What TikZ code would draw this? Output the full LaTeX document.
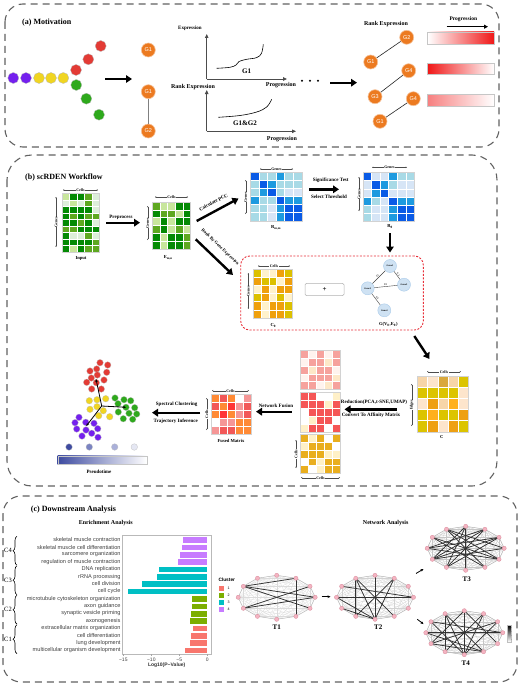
\documentclass[tikz,border=0pt]{standalone}
\usepackage{fontspec}
\setmainfont{Liberation Serif}
\newfontfamily\arialf{Liberation Sans}
\usetikzlibrary{arrows.meta,decorations.pathreplacing}

\definecolor{frame}{HTML}{626262}
\definecolor{gor}{HTML}{EC7A20}
\definecolor{cpur}{HTML}{7420EE}
\definecolor{cyel}{HTML}{F0D522}
\definecolor{cred}{HTML}{E33B35}
\definecolor{cgrn}{HTML}{2EA91C}
\definecolor{bred}{HTML}{F01818}
\definecolor{gA}{HTML}{048A04}
\definecolor{gB}{HTML}{5EA820}
\definecolor{gC}{HTML}{C8E69C}
\definecolor{gD}{HTML}{DDEEDA}
\definecolor{bA}{HTML}{0A5BE6}
\definecolor{bB}{HTML}{1E9ADF}
\definecolor{bC}{HTML}{A8DAE6}
\definecolor{bD}{HTML}{D6E5F6}
\definecolor{yA}{HTML}{DCC000}
\definecolor{oA}{HTML}{EFA00C}
\definecolor{cA}{HTML}{FFF2CC}
\definecolor{kP}{HTML}{F7D5A8}
\definecolor{kC}{HTML}{FDE5CC}
\definecolor{kT}{HTML}{D9A83C}
\definecolor{kY}{HTML}{DCC400}
\definecolor{kO}{HTML}{EEA012}
\definecolor{kB}{HTML}{FFB01C}
\definecolor{pA}{HTML}{F6A29D}
\definecolor{pW}{HTML}{FFF3EE}
\definecolor{pC}{HTML}{FDE8C8}
\definecolor{rA}{HTML}{F55656}
\definecolor{rC}{HTML}{FFF0C8}
\definecolor{dA}{HTML}{E9AE1E}
\definecolor{dC}{HTML}{FFF1C6}
\definecolor{fO}{HTML}{FF8A35}
\definecolor{fR}{HTML}{F25858}
\definecolor{fD}{HTML}{FF3535}
\definecolor{fP}{HTML}{F59696}
\definecolor{bcA}{HTML}{F8766D}
\definecolor{bcB}{HTML}{7CAE00}
\definecolor{bcC}{HTML}{00BFC4}
\definecolor{bcD}{HTML}{C77CFF}
\definecolor{nP}{HTML}{F4B4C2}
\definecolor{nPd}{HTML}{D98A9A}
\definecolor{tA}{HTML}{3E4BA0}
\definecolor{tB}{HTML}{7B84C2}
\definecolor{tC}{HTML}{AAB0D9}
\definecolor{tD}{HTML}{E5E7F3}
\definecolor{gnb}{HTML}{CFE2F3}
\definecolor{gnbd}{HTML}{A9CBEA}
\definecolor{redd}{HTML}{E8303A}

\newcommand{\hmap}[6]{%
  \foreach \cc [count=\ii from 0] in {#6}{%
    \pgfmathtruncatemacro\hmc{mod(\ii,#5)}%
    \pgfmathtruncatemacro\hmr{div(\ii,#5)}%
    \fill[\cc, draw=white, line width=0.15pt] ({#1+\hmc*#3},{#2+\hmr*#4}) rectangle ++(#3,#4);%
  }%
}
\newcommand{\toplab}[4]{%
  \draw[dimarrow] (#1,#3) -- (#2,#3);
  \node[tinylab, fill=white, inner sep=0.4pt] at ({(#1+#2)/2},#3) {#4};}
\newcommand{\leftlab}[4]{%
  \draw[dimarrow] (#1,#2) -- (#1,#3);
  \node[tinylab, fill=white, inner sep=0.4pt, rotate=90] at (#1,{(#2+#3)/2}) {#4};}
\newcommand{\netw}[5]{%
  \foreach \k in {0,...,11}{\coordinate (#3-\k) at ({#1+38.5*cos(120-30*\k)},{#2-22*sin(120-30*\k)});}
  \foreach \k in {0,...,10}{\pgfmathtruncatemacro\kn{\k+1}%
    \foreach \m in {\kn,...,11}{\draw[#5, line width=0.25pt] (#3-\k) -- (#3-\m);}}
  \foreach \k in {0,...,11}{\pgfmathtruncatemacro\kn{mod(\k+1,12)}\draw[gray!55, line width=0.45pt] (#3-\k) -- (#3-\kn);}
  \foreach \p/\q in {#4}{\draw[darkedge] (#3-\p) -- (#3-\q);}
  \foreach \k in {0,...,11}{\node[netnode] (#3n\k) at (#3-\k) {};}
}

\begin{document}
\begin{tikzpicture}[x=1pt,y=-1pt,
  ttl/.style={font=\bfseries\fontsize{8}{9}\selectfont, inner sep=0},
  alab/.style={font=\bfseries\fontsize{6}{7}\selectfont, inner sep=0},
  blab/.style={font=\bfseries\fontsize{5}{6}\selectfont, inner sep=0},
  mlab/.style={font=\bfseries\fontsize{4.6}{5}\selectfont, inner sep=0},
  tinylab/.style={font=\bfseries\fontsize{3.9}{4}\selectfont},
  celldot/.style={circle, minimum size=11pt, inner sep=0, draw=gray!55, line width=0.3pt},
  sdot/.style={circle, minimum size=6.6pt, inner sep=0, draw=gray!50, line width=0.25pt},
  gnode/.style={circle, fill=gor, draw=gor!45!white, line width=0.6pt, minimum size=14pt, inner sep=0, text=white, font=\arialf\fontsize{5.5}{6}\selectfont},
  bigarrow/.style={line width=2.4pt, -{Triangle[length=6pt,width=7.5pt]}},
  axisline/.style={draw=black!70, line width=0.9pt, -{Triangle[length=4pt,width=3.5pt]}},
  dimarrow/.style={line width=0.3pt, black!70, {Stealth[length=1.3pt,width=1.4pt]}-{Stealth[length=1.3pt,width=1.4pt]}},
  matf/.style={draw=gray!35, line width=0.4pt, inner sep=0, anchor=north west},
  gn/.style={circle, fill=gnb, draw=gnbd, line width=0.4pt, minimum size=13pt, inner sep=0, font=\bfseries\fontsize{2.4}{3}\selectfont},
  elab/.style={font=\bfseries\fontsize{2.6}{3}\selectfont, inner sep=0.6pt},
  netnode/.style={circle, fill=nP, draw=nPd, line width=0.3pt, minimum size=4.2pt, inner sep=0},
  darkedge/.style={black!80, line width=0.75pt},
  barlab/.style={font=\arialf\fontsize{5.6}{6}\selectfont, text=black!75, inner sep=0, anchor=east},
  panel/.style={draw=frame, line width=1.1pt, dash pattern=on 7pt off 5pt, rounded corners=18pt},
  smallarrow/.style={line width=0.8pt, -{Stealth[length=3pt,width=2.6pt]}}
]
\useasboundingbox (0,0) rectangle (519,685);
\fill[white] (0,0) rectangle (519,685);

% ---------------- panel frames
\draw[panel] (5,4) rectangle (499,147);
\draw[panel, rounded corners=25pt] (7,155) rectangle (497,486);
\draw[panel] (3,496) rectangle (517,682);

% ================= (a) Motivation
\node[ttl, anchor=west] (ta) at (22,23) {(a) Motivation};
\foreach \x/\y/\c [count=\i] in {13.3/78/cpur, 26/78/cpur, 39/78/cyel, 51/78/cyel, 63.3/78/cyel,
   76/70/cred, 88.3/59.3/cred, 100.7/46/cred, 76.3/85/cgrn, 86.3/98.7/cgrn, 99/114.7/cgrn}
  \node[celldot, fill=\c] (ac\i) at (\x,\y) {};
\coordinate (a1s) at (105,79); \coordinate (a1e) at (132,79);
\draw[bigarrow] (a1s) -- (a1e);

\node[gnode] (ga1) at (148.3,50) {G1};
\node[gnode] (ga2) at (148.3,91.7) {G1};
\node[gnode] (ga3) at (148.3,131) {G2};
\draw[gray, line width=1pt] (ga2) -- (ga3);

% plots
\coordinate (o1) at (206.7,79); \coordinate (y1) at (206.7,34); \coordinate (x1) at (287,79);
\draw[axisline] (o1) -- (y1); \draw[axisline] (o1) -- (x1);
\node[alab, font=\bfseries\fontsize{5}{6}\selectfont] (lexp) at (190,28.3) {Expression};
\node[alab] (lpr1) at (281,85) {Progression};
\draw[black, line width=0.6pt] plot[smooth, tension=0.6] coordinates {(216.7,68.3) (230,67.3) (236,65) (239,61.5) (246.7,59.3) (256.7,57.6) (261.5,53.3) (263.3,44.3)};
\node[alab, font=\bfseries\fontsize{7}{8}\selectfont] (lg1) at (246.7,71.7) {G1};

\coordinate (o2) at (206.7,131.3); \coordinate (y2) at (206.7,90); \coordinate (x2) at (296,131.3);
\draw[axisline] (o2) -- (y2); \draw[axisline] (o2) -- (x2);
\node[alab] (lrk1) at (193,87.3) {Rank Expression};
\node[alab] (lpr2) at (282,139.3) {Progression};
\draw[black, line width=0.6pt] plot[smooth, tension=0.6] coordinates {(218.3,117.3) (240,115.5) (256.7,112) (266.7,107) (271.7,99.3)};
\node[alab, font=\bfseries\fontsize{7}{8}\selectfont] (lg12) at (245,123.3) {G1\&G2};

\foreach \x [count=\i] in {302,310,318} \fill (\x,80.7) circle (1.1);
\coordinate (a2s) at (330,82.7); \coordinate (a2e) at (357,82.7);
\draw[bigarrow] (a2s) -- (a2e);

\node[alab] (lrk2) at (386,24.3) {Rank Expression};
\node[gnode] (gr2) at (406.7,37.3) {G2};
\node[gnode] (gr1) at (370.7,62) {G1};
\node[gnode] (gr4) at (408.7,70.7) {G4};
\node[gnode] (gr3) at (375,96.7) {G3};
\node[gnode] (gr6) at (413.3,98.7) {G4};
\node[gnode] (gr5) at (380,121.3) {G1};
\draw[black!85, line width=0.6pt] (gr1) -- (gr2);
\draw[black!85, line width=0.6pt] (gr3) -- (gr4);
\draw[black!85, line width=0.6pt] (gr5) -- (gr6);

\shade[left color=white, right color=bred] (427.7,32) rectangle (494,44);
\draw[gray!45, line width=0.5pt] (427.7,32) rectangle (494,44);
\shade[left color=bred, right color=white] (427.7,63.3) rectangle (494,74.7);
\draw[gray!45, line width=0.5pt] (427.7,63.3) rectangle (494,74.7);
\shade[left color=bred!55!white, right color=white] (427.7,94.3) rectangle (494,106);
\draw[gray!45, line width=0.5pt] (427.7,94.3) rectangle (494,106);
\node[alab, font=\bfseries\fontsize{5.5}{6}\selectfont] (lpr3) at (463.3,19) {Progression};
\coordinate (a3s) at (446.7,26.7); \coordinate (a3e) at (488,26.7);
\draw[line width=1.2pt, -{Triangle[length=4pt,width=4pt]}] (a3s) -- (a3e);

% ================= (b) scRDEN Workflow
\node[ttl, anchor=west] (tb) at (25,177.7) {(b) scRDEN Workflow};

% Input
\hmap{61.7}{193.3}{7.52}{6.48}{5}{gC,gA,gA,gB,gD, gD,gC,gD,gB,gD, gA,gA,gA,gA,gD, gA,gB,gA,gB,gB, gA,gA,gB,gA,gD, gB,gB,gA,gA,gA, gA,gD,gD,gB,gD, gA,gA,gA,gA,gB, gA,gC,gA,gB,gB}
\node[matf, minimum width=37.6pt, minimum height=58.3pt] (Min) at (61.7,193.3) {};
\toplab{63}{98}{190}{Cells}
\leftlab{56}{197}{247}{Genes}
\node[mlab] (lin) at (81,258.7) {Input};

\coordinate (pps) at (106,222.7); \coordinate (ppe) at (140,222.7);
\draw[bigarrow] (pps) -- (ppe);
\node[blab] (lpp) at (121,217.5) {Preprocess};

% E
\hmap{152.3}{201.7}{7.6}{7.88}{5}{gB,gC,gC,gA,gA, gA,gB,gB,gC,gA, gC,gA,gC,gA,gA, gB,gA,gC,gB,gC, gA,gC,gA,gA,gB, gA,gC,gA,gA,gB}
\node[matf, minimum width=38pt, minimum height=47.3pt] (ME) at (152.3,201.7) {};
\toplab{155}{188}{197}{Cells}
\leftlab{147.7}{206}{240}{Genes}
\node[mlab] (lE) at (168.3,257.3) {E\textsubscript{m,n}};

\coordinate (pcs) at (196.7,221); \coordinate (pce) at (238.5,198.5);
\draw[bigarrow] (pcs) -- (pce);
\node[blab, rotate=28] (lpcc) at (213.5,202.5) {Calculate PCC};
\coordinate (rks) at (195.7,239.3); \coordinate (rke) at (233,275);
\draw[bigarrow] (rks) -- (rke);
\node[blab, rotate=-44, font=\bfseries\fontsize{4.5}{5}\selectfont] (lrk) at (220,247) {Rank By Gene Expression};

% R_mm
\hmap{250}{171.7}{8.62}{8.17}{6}{bA,bC,bC,bB,bC,bC, bC,bA,bB,bC,bC,bC, bC,bB,bA,bC,bD,bD, bB,bC,bC,bA,bB,bB, bC,bC,bD,bB,bA,bA, bC,bC,bD,bB,bA,bA}
\node[matf, minimum width=51.7pt, minimum height=49pt] (MR) at (250,171.7) {};
\toplab{260}{293}{169}{Genes}
\leftlab{245.7}{180}{214}{Genes}
\node[mlab] (lR) at (276,227.3) {R\textsubscript{m,m}};

\coordinate (sgs) at (309.3,189.3); \coordinate (sge) at (339,189.3);
\draw[bigarrow] (sgs) -- (sge);
\node[blab] (lsg) at (330.7,180) {Significance Test};
\node[blab] (lst) at (329,196.7) {Select Threshold};

% R_theta
\hmap{362.7}{172.3}{8.6}{8.17}{6}{bA,bD,bD,bB,bC,bC, bD,bA,bB,bC,bD,bD, bD,bB,bA,bD,bD,bD, bB,bC,bD,bA,bB,bB, bC,bD,bD,bB,bA,bA, bC,bD,bD,bB,bA,bA}
\node[matf, minimum width=51.6pt, minimum height=49pt] (MRt) at (362.7,172.3) {};
\toplab{372}{407}{167.3}{Genes}
\leftlab{359}{177}{211}{Genes}
\node[mlab] (lRt) at (390,226.7) {R\textsubscript{θ}};

\coordinate (rts) at (390,233.3); \coordinate (rte) at (390,252.5);
\draw[bigarrow] (rts) -- (rte);

% red dashed box
\node[draw=redd, dash pattern=on 2pt off 1.5pt, line width=0.9pt, rounded corners=9pt, minimum width=182.6pt, minimum height=74pt, inner sep=0] (rbox) at (332,293) {};

% C_theta
\hmap{253.3}{269}{7.74}{8.12}{5}{yA,cA,cA,oA,yA, oA,yA,yA,cA,oA, cA,oA,cA,oA,oA, yA,oA,cA,yA,cA, oA,cA,oA,oA,yA, oA,cA,oA,oA,yA}
\node[matf, minimum width=38.7pt, minimum height=48.7pt] (MCt) at (253.3,269) {};
\toplab{258}{290}{266}{Cells}
\leftlab{248.3}{273}{309}{Genes}
\node[mlab] (lCt) at (273.3,325.7) {C\textsubscript{θ}};

\node[draw=gray!60, rounded corners=1.5pt, minimum width=39pt, minimum height=12.4pt, line width=0.5pt, inner sep=0, font=\bfseries\fontsize{7}{7}\selectfont] (plus) at (324.5,289.5) {+};

% graph
\node[gn] (gn1) at (390,266) {Gene1};
\node[gn] (gn3) at (404,284.7) {Gene3};
\node[gn] (gn2) at (367.7,288.3) {Gene2};
\node[gn] (gn4) at (384.3,310.3) {Gene4};
\draw[black!75, line width=0.4pt] (gn2) -- node[elab, above, sloped] {E1} (gn1);
\draw[black!75, line width=0.4pt] (gn1) -- node[elab, above, sloped] {E2} (gn3);
\draw[black!75, line width=0.4pt] (gn2) -- node[elab, above, sloped] {E3} (gn3);
\draw[black!75, line width=0.4pt] (gn2) -- node[elab, above, sloped] {E4} (gn4);
\node[mlab] (lG) at (388.3,324) {G(V\textsubscript{θ},E\textsubscript{θ})};

\coordinate (bcs) at (414.3,336); \coordinate (bce) at (429.5,359);
\draw[bigarrow] (bcs) -- (bce);

% C
\hmap{417.3}{376}{10.14}{11.14}{5}{kP,kC,kT,kP,kY, kY,kY,kY,kY,kC, kC,kO,kP,kB,kC, kY,kB,kY,kY,kO, kY,kO,kC,kO,kY}
\node[matf, minimum width=50.7pt, minimum height=55.7pt] (MC) at (417.3,376) {};
\toplab{427}{461}{371.7}{Cells}
\leftlab{411.7}{384}{426}{Edges}
\node[mlab] (lC) at (441.7,436.5) {C};

\coordinate (rds) at (396.7,409.3); \coordinate (rde) at (344.5,409.3);
\draw[bigarrow] (rds) -- (rde);
\node[blab] (lrd) at (374,402.3) {Reduction(PCA,t-SNE,UMAP)};
\node[blab] (lca) at (371,415.7) {Convert To Affinity Matrix};

% stack
\hmap{300}{350}{8}{7.86}{5}{pA,pW,pA,pW,pA, pW,pA,pA,pC,pA, pA,pC,pA,pA,pW, pW,pA,pA,pA,pC, pA,pA,pW,pC,pA}
\node[matf, minimum width=40pt, minimum height=39.3pt] (MS1) at (300,350) {};
\hmap{300}{392.3}{8}{7.86}{5}{rA,rA,white,white,rC, rA,rA,rA,rC,rA, white,rA,rA,rA,rA, white,rC,rA,rA,white, rC,rA,rA,white,rA}
\node[matf, minimum width=40pt, minimum height=39.3pt] (MS2) at (300,392.3) {};
\hmap{300}{434.3}{8}{7.8}{5}{dA,dC,dA,white,dA, dC,dA,dA,dA,white, dA,dA,dA,dC,dC, white,dA,dC,dA,dA, dA,white,dC,dA,dA}
\node[matf, minimum width=40pt, minimum height=39pt] (MS3) at (300,434.3) {};
\toplab{301}{340}{477.7}{Cells}
\leftlab{296}{440}{468}{Cells}

\coordinate (nfs) at (291.7,411.7); \coordinate (nfe) at (256,411.7);
\draw[bigarrow] (nfs) -- (nfe);
\node[blab] (lnf) at (276,405.3) {Network Fusion};

% fused
\hmap{211}{394.3}{7.94}{7.94}{5}{fO,fR,fO,white,fP, fR,fO,fD,fP,fR, fO,fD,fO,fP,fR, white,fP,fP,fO,fO, fP,fR,fR,fO,fO}
\node[matf, minimum width=39.7pt, minimum height=39.7pt] (MF) at (211,394.3) {};
\toplab{212}{249}{390.7}{Cells}
\leftlab{206.7}{398}{430}{Cells}
\node[mlab] (lF) at (231,441.3) {Fused Matrix};

\coordinate (scs) at (200,412.7); \coordinate (sce) at (152,412.7);
\draw[bigarrow] (scs) -- (sce);
\node[blab] (lsc) at (176.7,404.3) {Spectral Clustering};
\node[blab] (ltr) at (175.7,421) {Trajectory Inference};

% scatter
\foreach \x/\y [count=\i] in {100/362.7,107.7/365,90/371,96.7/369,106.7/372.3,91.3/378,97.3/375,104/380,86.7/382.3,96.3/382.7,91.7/389,101.3/389}
  \node[sdot, fill=cred] (sr\i) at (\x,\y) {};
\foreach \x/\y [count=\i] in {115/398,124/399.7,130.7/400.7,118/403.7,126/407.3,134.7/407.7,118.3/412,129/413.3,136.7/414,123.3/418.7,132.7/419.3}
  \node[sdot, fill=cgrn] (sg\i) at (\x,\y) {};
\foreach \x/\y [count=\i] in {79/417.3,75/422.7,85.7/422.3,94/423.3,76.7/429,86/430,97.7/428.7,91.7/433.3,82/436,98/437.3}
  \node[sdot, fill=cpur] (sp\i) at (\x,\y) {};
\foreach \x/\y [count=\i] in {89.3/400.7,97/399.7,105.7/398.7,90/409.3,97/406.7,103.3/410.7,98.7/415.7,109.7/416.7}
  \node[sdot, fill=cyel] (sy\i) at (\x,\y) {};
\coordinate (scC) at (101.7,406);
\coordinate (scR) at (96,379); \coordinate (scG) at (126,407.3); \coordinate (scP) at (86.3,426);
\draw[smallarrow] (scC) -- (scR);
\draw[smallarrow] (scC) -- (scG);
\draw[smallarrow] (scC) -- (scP);

\foreach \x/\c [count=\i] in {69/tA,89.3/tB,114.7/tC,134.3/tD}
  \node[sdot, fill=\c] (pt\i) at (\x,447) {};
\shade[left color=tA, right color=white] (57.7,455.7) rectangle (146.7,464);
\draw[gray!45, line width=0.4pt] (57.7,455.7) rectangle (146.7,464);
\node[mlab, font=\bfseries\fontsize{5}{6}\selectfont] (lps) at (99,472) {Pseudotime};

% ================= (c) Downstream Analysis
\node[ttl, anchor=west] (tc) at (30.7,509.3) {(c) Downstream Analysis};
\node[alab] (len) at (105.7,522.7) {Enrichment Analysis};
\node[alab] (lna) at (385.7,522.7) {Network Analysis};

\draw[gray!55, line width=0.6pt] (122.3,535.7) rectangle (211.7,654.3);
\foreach \lab/\val/\col [count=\i from 0] in {
  skeletal muscle contraction/4.57/bcD,
  skeletal muscle cell differentiation/4.7/bcD,
  sarcomere organization/5.05/bcD,
  regulation of muscle contraction/5.36/bcD,
  DNA replication/8.7/bcC,
  rRNA processing/9.16/bcC,
  cell division/11.9/bcC,
  cell cycle/14.3/bcC,
  microtubule cytoskeleton organization/2.8/bcB,
  axon guidance/2.9/bcB,
  synaptic vesicle priming/3.1/bcB,
  axonogenesis/3.3/bcB,
  extracellular matrix organization/2.75/bcA,
  cell differentiation/3.05/bcA,
  lung development/3.2/bcA,
  multicellular organism development/4.2/bcA}{
  \pgfmathsetmacro\yy{539.7+7.37*\i}
  \fill[\col, draw=white, line width=0.3pt] ({207.3-5.6*\val},{\yy-3.3}) rectangle (207.3,{\yy+3.3});
  \node[barlab] (bl\i) at (120.7,\yy) {\lab};
}
\foreach \v/\t in {-15/−15,-10/−10,-5/−5,0/0}{
  \draw[gray!70, line width=0.4pt] ({207.3+5.6*\v},654.3) -- ({207.3+5.6*\v},656.3);
  \node[font=\arialf\fontsize{5}{6}\selectfont, text=black!75, inner sep=0] at ({207.3+5.6*\v},659.8) {\t};
}
\node[font=\arialf\bfseries\fontsize{5}{6}\selectfont, text=black!80, inner sep=0] (lax) at (166.7,665.5) {Log10(P−Value)};

% braces
\foreach \g/\lab in {0/C4,1/C3,2/C2,3/C1}{
  \pgfmathsetmacro\ytop{539.7+7.37*4*\g-3.4}
  \pgfmathsetmacro\ybot{539.7+7.37*(4*\g+3)+3.4}
  \draw[decorate, decoration={brace, amplitude=4pt}, line width=0.6pt] (17,\ybot) -- (17,\ytop);
  \node[font=\fontsize{6.5}{7}\selectfont, inner sep=0] (cl\g) at (8,{(\ytop+\ybot)/2}) {\lab};
}

% legend
\node[font=\arialf\bfseries\fontsize{4.8}{5}\selectfont, inner sep=0, anchor=west] (lcl) at (218.3,580) {Cluster};
\foreach \c/\t [count=\i] in {bcA/1,bcB/2,bcC/3,bcD/4}{
  \node[fill=\c, minimum size=5.3pt, inner sep=0] (lgs\i) at (221.7,{581.3+7*\i}) {};
  \node[font=\arialf\fontsize{3.6}{4}\selectfont, inner sep=0, anchor=west] at (227.5,{581.3+7*\i}) {\t};
}

% networks
\netw{276.7}{597.3}{TA}{11/2, 11/4, 11/5, 2/6, 9/3, 9/4}{gray!28}
\netw{375}{597.3}{TB}{0/7, 0/6, 2/7, 2/8, 10/7, 9/7, 11/4, 10/4, 0/8, 1/7}{gray!35}
\netw{465.7}{548.3}{TC}{0/6, 0/5, 1/7, 1/8, 2/9, 2/8, 3/10, 3/9, 11/5, 0/4, 2/10, 1/9, 9/4, 11/6, 3/8, 10/5}{gray!45}
\netw{464.3}{632.7}{TD}{1/7, 0/7, 2/7, 11/7, 3/7, 10/6, 0/6, 2/8, 1/9, 1/5, 11/4, 4/10, 9/6, 3/9, 0/8}{gray!45}
\node[ttl, font=\bfseries\fontsize{7}{8}\selectfont] (lT1) at (276.7,627.3) {T1};
\node[ttl, font=\bfseries\fontsize{7}{8}\selectfont] (lT2) at (378.3,627.3) {T2};
\node[ttl, font=\bfseries\fontsize{7}{8}\selectfont] (lT3) at (466.7,579.3) {T3};
\node[ttl, font=\bfseries\fontsize{7}{8}\selectfont] (lT4) at (465.7,662.7) {T4};
\coordinate (n12s) at (321.7,596.7); \coordinate (n12e) at (330.5,596.7);
\draw[smallarrow] (n12s) -- (n12e);
\coordinate (n23s) at (416,573.5); \coordinate (n23e) at (423.5,569);
\draw[smallarrow] (n23s) -- (n23e);
\coordinate (n24s) at (417.3,619.3); \coordinate (n24e) at (423.5,624);
\draw[smallarrow] (n24s) -- (n24e);

% colorbar
\shade[top color=black, bottom color=white] (507.3,625) rectangle (511,641.7);
\draw[gray!50, line width=0.3pt] (507.3,625) rectangle (511,641.7);
\foreach \yy in {627,631,635,639} \draw[gray!70, line width=0.2pt] (511,\yy) -- (512,\yy);
\end{tikzpicture}
\end{document}
